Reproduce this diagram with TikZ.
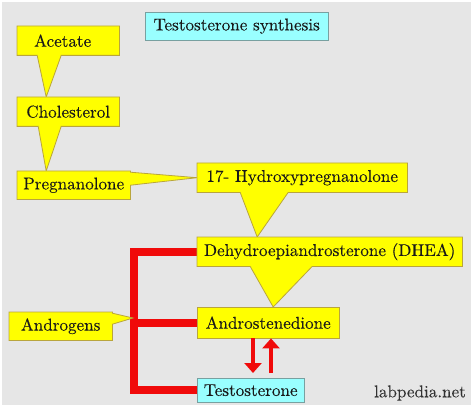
\documentclass[tikz,border=0pt]{standalone}
\usepackage{fontspec}
\newfontfamily\tnr{lmroman10-regular.otf}[FakeBold=0.2]
\usetikzlibrary{backgrounds,arrows.meta}
\definecolor{bgc}{RGB}{230,230,230}
\definecolor{yel}{RGB}{255,255,0}
\definecolor{olivec}{RGB}{185,165,60}
\definecolor{cyn}{RGB}{153,255,255}
\definecolor{cynb}{RGB}{120,160,160}
\definecolor{txt}{RGB}{25,25,25}
\definecolor{redc}{RGB}{240,10,10}
\definecolor{wm}{RGB}{50,50,50}
\begin{document}
\begin{tikzpicture}[x=1pt,y=-1pt,
 lbl/.style={inner sep=0pt, anchor=north west, text=txt, font=\tnr\fontsize{17.1}{19}\selectfont},
 yshape/.style={fill=yel, draw=olivec, line width=0.8pt, line join=miter},
 cshape/.style={fill=cyn, draw=cynb, line width=0.8pt},
 bracket/.style={draw=redc, line width=8pt, line join=miter},
 redarrow/.style={draw=redc, line width=4pt, -{Triangle[width=17pt,length=10pt]}}]
\useasboundingbox (0,0) rectangle (474,409);
% nodes
\node[lbl, minimum width=183pt, minimum height=28pt] (title) at (145,12) {Testosterone synthesis};
\node[lbl, minimum width=102pt, minimum height=29pt] (ace) at (17,26) {Acetate\hspace*{11pt}};
\node[lbl, minimum width=102pt, minimum height=29pt] (chol) at (17,97) {Cholesterol};
\node[lbl, minimum width=113pt, minimum height=28pt] (preg) at (17,171) {Pregnanolone};
\node[lbl, minimum width=210pt, minimum height=29pt] (hyd) at (197,163) {17- Hydroxypregnanolone};
\node[lbl, minimum width=265pt, minimum height=29pt] (dhea) at (197,237) {Dehydroepiandrosterone (DHEA)};
\node[lbl, minimum width=142pt, minimum height=31pt] (andro) at (197,307) {Androstenedione};
\node[lbl, minimum width=107pt, minimum height=24pt] (testo) at (197,378) {Testosterone};
\node[lbl, minimum width=103pt, minimum height=28pt] (andg) at (9,312) {Androgens};
\node[text=wm, inner sep=0pt, font=\tnr\fontsize{17.1}{19}\selectfont] (wmk) at (420,393) {labpedia.net};
\coordinate (brk) at (134,0);
\coordinate (agtip) at (133,318);
\coordinate (da) at (253,373);
\coordinate (ua) at (271,373);
\begin{pgfonlayer}{background}
\fill[bgc] (2,2) rectangle (471,405);
\draw[bracket] (dhea.west) -- (dhea.west -| brk) |- (testo.west);
\draw[bracket] (andro.west) -- (andro.west -| brk);
\path[yshape] (ace.north west) -- (ace.north east) -- (ace.south east) -- ([xshift=-7pt]ace.south) -- ([xshift=-22pt]chol.north) -- ([xshift=-31pt]ace.south) -- (ace.south west) -- cycle;
\path[yshape] (chol.north west) -- (chol.north east) -- (chol.south east) -- ([xshift=-7pt]chol.south) -- ([xshift=-27.5pt]preg.north) -- ([xshift=-30pt]chol.south) -- (chol.south west) -- cycle;
\path[yshape] (preg.north west) -- (preg.north east) -- ([yshift=13pt]preg.east) -- (hyd.west) -- (preg.east) -- (preg.south east) -- (preg.south west) -- cycle;
\path[yshape] (hyd.north west) -- (hyd.north east) -- (hyd.south east) -- ([xshift=-14pt]hyd.south) -- ([xshift=-72.5pt]dhea.north) -- ([xshift=-62pt]hyd.south) -- (hyd.south west) -- cycle;
\path[yshape] (dhea.north west) -- (dhea.north east) -- (dhea.south east) -- ([xshift=-17.5pt]dhea.south) -- ([xshift=5pt]andro.north) -- ([xshift=-79.5pt]dhea.south) -- (dhea.south west) -- cycle;
\path[yshape] (andro.north west) rectangle (andro.south east);
\path[yshape] (andg.north west) -- (andg.north east) -- ([yshift=13pt]andg.east) -- (agtip) -- ([yshift=2pt]andg.east) -- (andg.south east) -- (andg.south west) -- cycle;
\path[cshape] (title.north west) rectangle (title.south east);
\path[cshape] (testo.north west) rectangle (testo.south east);
\end{pgfonlayer}
\draw[redarrow] (andro.south -| da) -- (da);
\draw[redarrow] (ua) -- (andro.south -| ua);
\end{tikzpicture}
\end{document}
